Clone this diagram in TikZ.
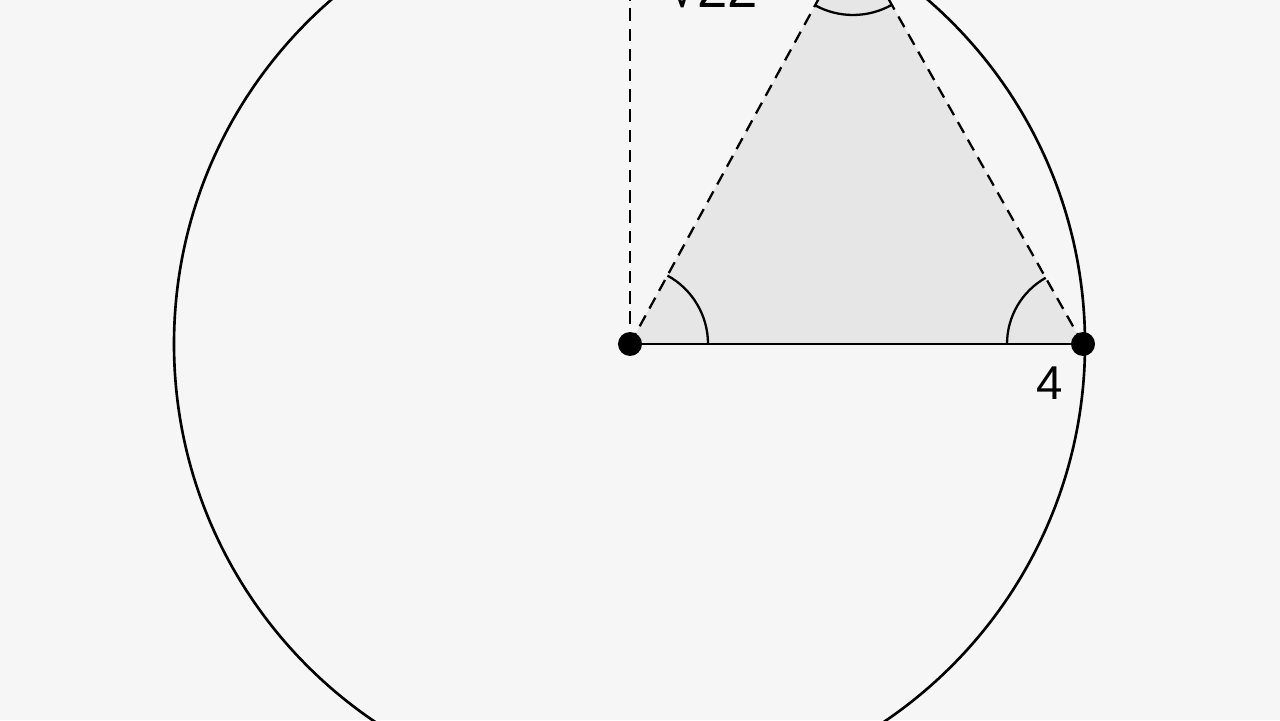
\documentclass[tikz,border=0pt]{standalone}
\usepackage{fontspec}
\setmainfont{Liberation Sans}
\begin{document}
\begin{tikzpicture}[x=0.02cm,y=0.02cm,
  outline/.style={line width=1.5pt,black},
  dashline/.style={line width=1.3pt,black,dash pattern=on 7pt off 4.5pt},
  anglearc/.style={line width=1.3pt,black},
  dotnode/.style={circle,fill=black,inner sep=0pt,minimum size=0.48cm},
  lbl/.style={font=\fontsize{27}{32}\selectfont,inner sep=0pt},
  biglbl/.style={font=\fontsize{31}{36}\selectfont,inner sep=0pt}]
\fill[fill={rgb,255:red,246;green,246;blue,246}] (0,0) rectangle (1280,720);
\useasboundingbox (0,0) rectangle (1280,720);
\clip (0,0) rectangle (1280,720);
\coordinate (C) at (629.5,376);
\coordinate (O) at (630,376);
\coordinate (B) at (1083,376);
\coordinate (A) at (853,784);
\coordinate (T) at (630,730);
% shaded triangle
\fill[fill={rgb,255:red,230;green,230;blue,230}] (O) -- (B) -- (A) -- cycle;
% circle
\draw[outline] (C) circle (455.5);
% sides
\draw[dashline] (O) -- (A);
\draw[dashline] (B) -- (A);
\draw[dashline] (O) -- (T);
\draw[outline] (O) -- (B);
% angle arcs
\draw[anglearc] ([shift={(0:78)}]O) arc (0:61.3:78);
\draw[anglearc] ([shift={(180:76)}]B) arc (180:119.4:76);
\draw[anglearc] ([shift={(241.3:79)}]A) arc (241.3:299.4:79);
% points
\node[dotnode] (Odot) at (O) {};
\node[dotnode] (Bdot) at (B) {};
% labels
\node[biglbl,anchor=base west] (root) at (667,712) {√22};
\node[lbl,anchor=base] (four) at (1050,320) {4};
\end{tikzpicture}
\end{document}
